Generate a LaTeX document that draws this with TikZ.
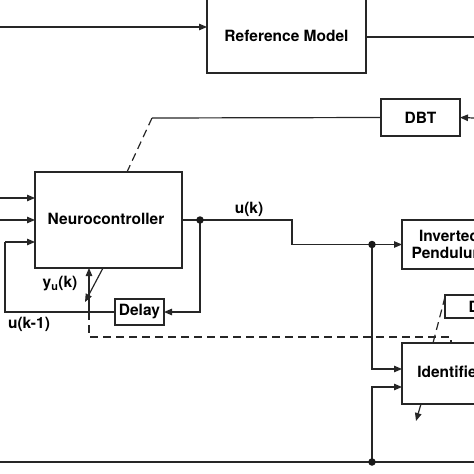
\documentclass[tikz,border=0pt]{standalone}
\usepackage{fontspec}
\setmainfont{TeX Gyre Heros}
\usetikzlibrary{arrows.meta,calc}
\begin{document}
\begin{tikzpicture}[x=1pt,y=-1pt,
  ln/.style={line width=1.2pt,draw=black!85},
  arr/.style={ln,-{Triangle[length=8pt,width=6.5pt]}},
  dsh/.style={ln,dash pattern=on 8pt off 5pt},
  blk/.style={ln,rectangle,inner sep=0pt,outer sep=0pt,font=\fontsize{15.5}{18.5}\selectfont\bfseries,align=center},
  lbl/.style={inner sep=0pt,font=\fontsize{15.5}{18.5}\selectfont\bfseries},
  dot/.style={circle,fill=black!90,inner sep=0pt,minimum size=7.5pt}]
\useasboundingbox (0,0) rectangle (474,474);
\clip (0,0) rectangle (474,474);
% blocks
\node[blk,minimum width=159pt,minimum height=75pt] (refmodel) at (286.5,35.5) {Reference Model};
\node[blk,minimum width=79pt,minimum height=37pt] (dbt) at (420.5,117.5) {DBT};
\node[blk,minimum width=147pt,minimum height=96pt] (neuro) at (108.5,220) {};
\node[lbl] (neurotxt) at (106,219) {Neurocontroller};
\node[blk,minimum width=49pt,minimum height=26pt] (delay) at (139.5,312) {Delay};
\node[blk,minimum width=94pt,minimum height=49pt] (pend) at (449,244.5) {Inverted\\[-1pt]Pendulum};
\node[blk,minimum width=96pt,minimum height=61pt] (ident) at (450,373.5) {};
\node[lbl] (identtxt) at (450,372) {Identifier};
\node[blk,minimum width=79pt,minimum height=23pt] (dbtb) at (484.5,306.5) {DBT};
% free ends
\coordinate (in0) at (0,27);
\coordinate (out0) at (474,37);
\coordinate (dbtin) at (474,118);
\coordinate (bend1) at (152,118);
\coordinate (nt) at (127,172);
\coordinate (in1) at (0,198);
\coordinate (in2) at (0,220);
\coordinate (lp) at (5,242);
\coordinate (j1) at (200,220);
\coordinate (j2) at (372,244.5);
\coordinate (bl) at (0,462);
\coordinate (br) at (474,462);
\coordinate (j3) at (372,462);
\coordinate (tap) at (89,312);
% connectors
\draw[arr] (in0) -- (in0 -| refmodel.west);
\draw[ln] (refmodel.east |- out0) -- (out0);
\draw[arr] (dbtin) -- (dbt.east);
\draw[ln] (dbt.west) -- (bend1);
\draw[dsh] (bend1) -- (nt);
\draw[arr] (in1) -- (in1 -| neuro.west);
\draw[arr] (in2) -- (in2 -| neuro.west);
\draw[arr] (neuro.east) -- ++(110,0) |- (pend.west);
\draw[arr] (j1) |- (delay.east);
\draw[ln] (delay.west) -| (lp);
\draw[arr] (lp) -- (lp -| neuro.west);
\draw[arr] (j2) |- ([yshift=4.5pt]ident.west);
\draw[ln] (bl) -- (br);
\draw[arr] (j3) |- ([yshift=-13.5pt]ident.west);
\draw[arr] ([xshift=-29pt]ident.south) -- ++(-5,17);
\draw[dsh] ([yshift=-2pt]dbtb.north west) -- ([xshift=-17pt]ident.north);
\draw[dsh] (tap) |- (451,337) -- ([xshift=1pt]ident.north);
\draw[arr] (tap) -- (tap |- neuro.south);
\draw[arr] ([xshift=-5.5pt]neuro.south) -- ++(-18,34);
\node[dot] (d1) at (j1) {};
\node[dot] (d2) at (j2) {};
\node[dot] (d3) at (j3) {};
% labels
\node[lbl] (uk) at (249,209) {u(k)};
\node[lbl] (yuk) at (60,284) {y\textsubscript{u}(k)};
\node[lbl] (ukm) at (29,324) {u(k-1)};
\end{tikzpicture}
\end{document}
